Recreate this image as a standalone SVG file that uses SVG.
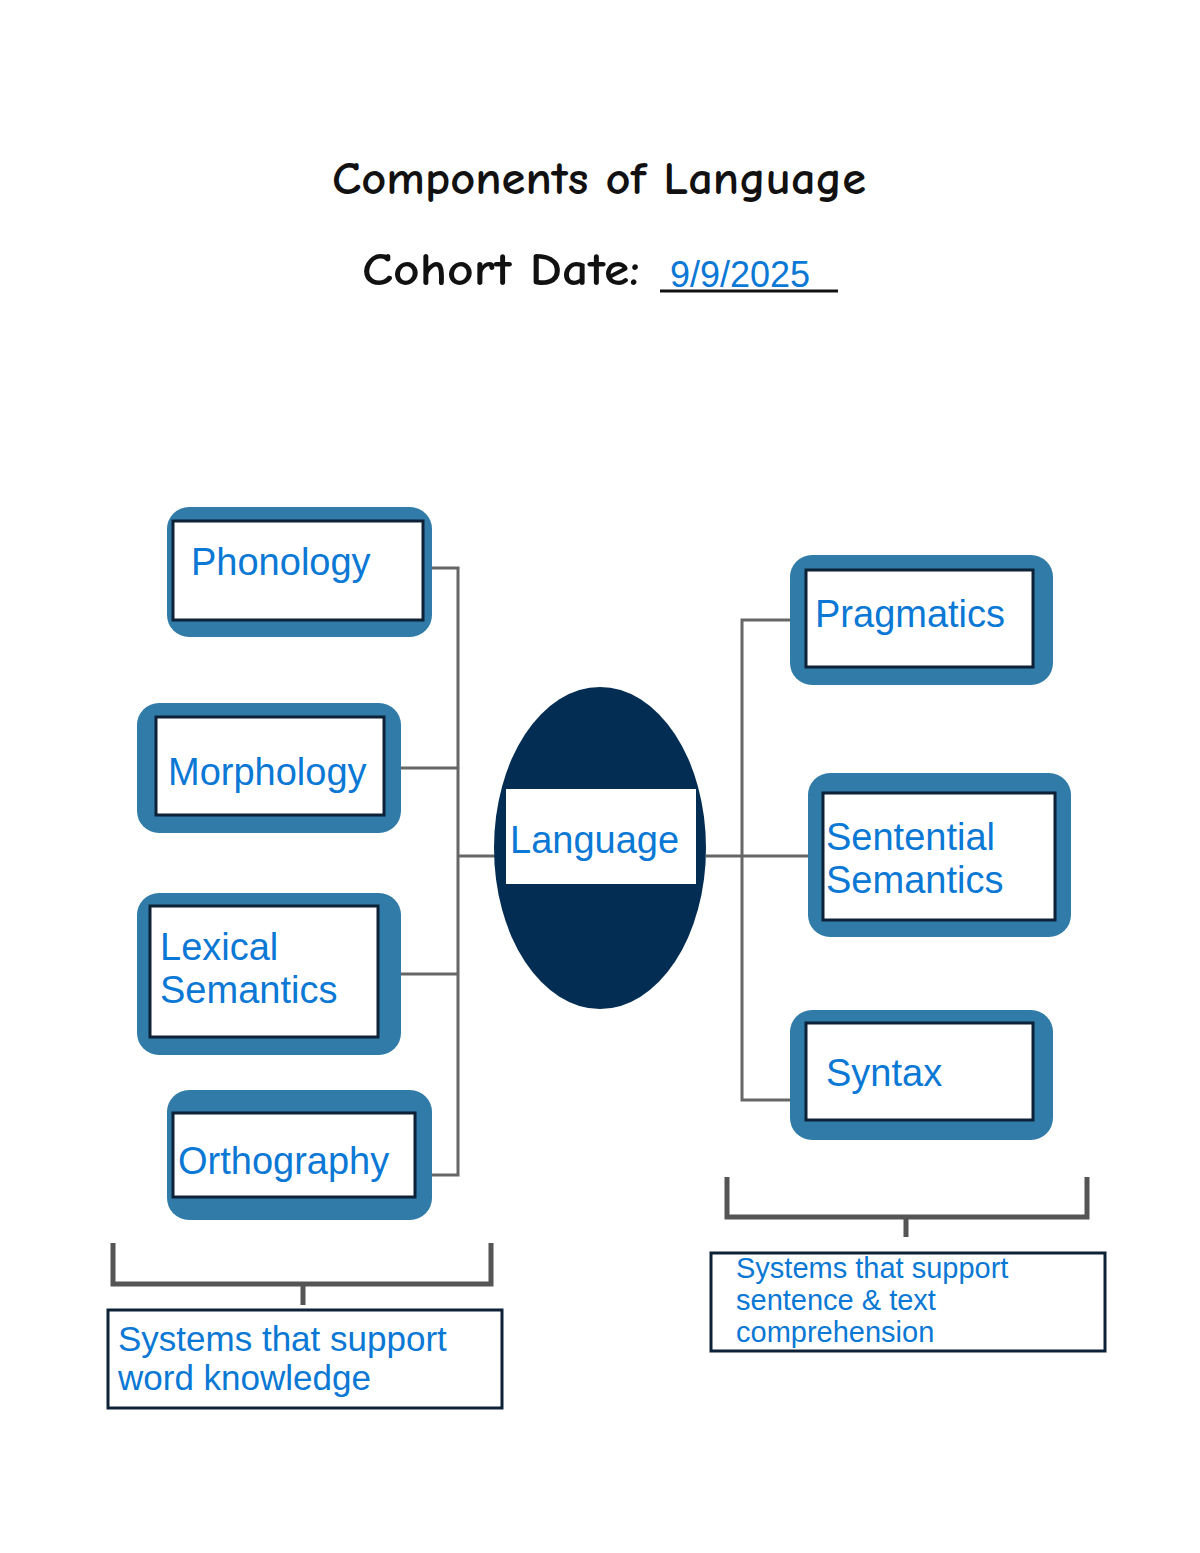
<svg xmlns="http://www.w3.org/2000/svg" width="1200" height="1553" viewBox="0 0 1200 1553">
<style>
.o{fill:#317ba8}
.i{fill:#fff;stroke:#0d2236;stroke-width:3}
.t{font-family:"Liberation Sans",Arial,sans-serif;fill:#0a78d4;font-size:38px}
.c{stroke:#666;stroke-width:3;fill:none}
.b{stroke:#555;stroke-width:5;fill:none}
.h{font-family:"Comic Neue","DejaVu Sans",sans-serif;font-size:46px;fill:#111;font-weight:bold}
</style>
<rect width="1200" height="1553" fill="#fff"/>
<text class="h" x="332" y="194" textLength="534" lengthAdjust="spacingAndGlyphs">Components of Language</text>
<text class="h" x="362" y="285" textLength="278" lengthAdjust="spacingAndGlyphs">Cohort Date:</text>
<line x1="660" y1="291" x2="838" y2="291" stroke="#111" stroke-width="3"/>
<text x="670" y="287" style="font-family:'Liberation Sans',sans-serif;font-size:36px;fill:#0a78d4">9/9/2025</text>
<g id="connectors">
<path class="c" d="M432 568H458V1175H432M401 768H458M401 974H458M458 856H495"/>
<path class="c" d="M790 620H742V1100H790M706 856H808"/>
<path class="b" d="M113 1243V1284H491V1243M303 1284V1305"/>
<path class="b" d="M727 1177V1217H1087V1177M906 1217V1237"/>
</g>
<g id="language">
<ellipse cx="600" cy="848" rx="106" ry="161" fill="#032d52"/>
<rect x="506" y="789" width="190" height="95" fill="#fff"/>
<text class="t" x="510" y="853">Language</text>
</g>
<g id="phonology"><rect class="o" x="167" y="507" width="265" height="130" rx="22"/><rect class="i" x="173" y="521" width="250" height="99"/><text class="t" x="191" y="575">Phonology</text></g>
<g id="morphology"><rect class="o" x="137" y="703" width="264" height="130" rx="22"/><rect class="i" x="156" y="717" width="228" height="98"/><text class="t" x="168" y="785">Morphology</text></g>
<g id="lexical"><rect class="o" x="137" y="893" width="264" height="162" rx="22"/><rect class="i" x="150" y="906" width="228" height="131"/><text class="t" x="160" y="960">Lexical</text><text class="t" x="160" y="1003">Semantics</text></g>
<g id="orthography"><rect class="o" x="167" y="1090" width="265" height="130" rx="22"/><rect class="i" x="173" y="1113" width="242" height="84"/><text class="t" x="178" y="1174">Orthography</text></g>
<g id="pragmatics"><rect class="o" x="790" y="555" width="263" height="130" rx="22"/><rect class="i" x="806" y="570" width="227" height="97"/><text class="t" x="815" y="627">Pragmatics</text></g>
<g id="sentential"><rect class="o" x="808" y="773" width="263" height="164" rx="22"/><rect class="i" x="823" y="793" width="232" height="127"/><text class="t" x="826" y="850">Sentential</text><text class="t" x="826" y="893">Semantics</text></g>
<g id="syntax"><rect class="o" x="790" y="1010" width="263" height="130" rx="22"/><rect class="i" x="806" y="1023" width="227" height="97"/><text class="t" x="826" y="1086">Syntax</text></g>
<g id="word"><rect class="i" x="108" y="1310" width="394" height="98"/><text class="t" style="font-size:35px" x="118" y="1351">Systems that support</text><text class="t" style="font-size:35px" x="118" y="1390">word knowledge</text></g>
<g id="sentence"><rect class="i" x="711" y="1253" width="394" height="98"/><text class="t" style="font-size:29px" x="736" y="1278">Systems that support</text><text class="t" style="font-size:29px" x="736" y="1310">sentence &amp; text</text><text class="t" style="font-size:29px" x="736" y="1342">comprehension</text></g>
</svg>
